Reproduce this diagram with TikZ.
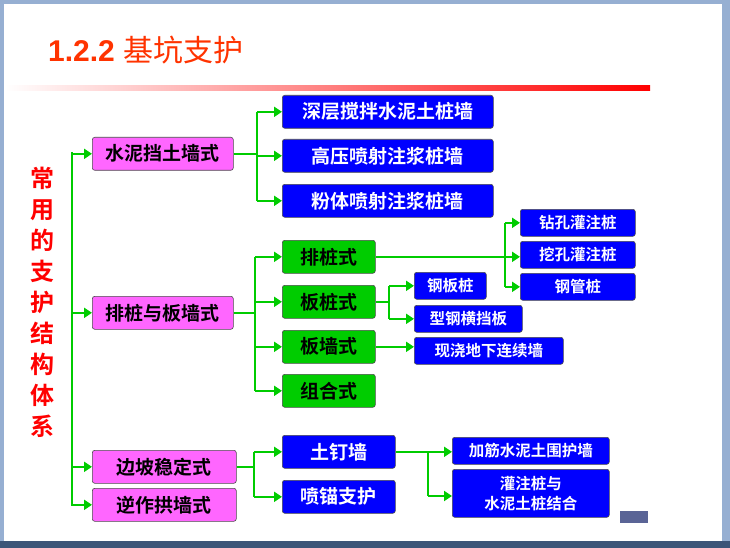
\documentclass[tikz,border=0pt]{standalone}
\usepackage{fontspec}
\setmainfont{Liberation Sans}
\newfontfamily\cjk{Noto Sans CJK SC}
\newfontfamily\cjkb{Noto Sans CJK SC Bold}
\usetikzlibrary{arrows.meta}
\definecolor{gr}{RGB}{0,204,0}
\definecolor{pk}{RGB}{255,102,255}
\definecolor{bl}{RGB}{0,0,255}
\definecolor{ttl}{RGB}{255,51,0}
\tikzset{
 box/.style={draw=black!70,line width=0.6pt,rounded corners=2.5pt,minimum height=33pt,inner sep=0pt,anchor=north west,font=\cjkb\fontsize{19}{21}\selectfont},
 pbox/.style={box,fill=pk,text=black},
 gbox/.style={box,fill=gr,text=black},
 bbox/.style={box,fill=bl,text=white},
 sbox/.style={bbox,minimum height=27pt,font=\cjkb\fontsize{15.5}{17}\selectfont},
 con/.style={draw=gr,line width=2.4pt},
 arr/.style={con,-{Triangle[length=8pt,width=10pt]}},
}
\begin{document}
\begin{tikzpicture}[x=1pt,y=-1pt]
\useasboundingbox (0,0) rectangle (730,548);
\fill[color={rgb,255:red,150;green,175;blue,210}] (0,0) rectangle (730,548);
\fill[white] (4,4) rectangle (722,541);
\fill[color={rgb,255:red,60;green,85;blue,120}] (0,541) rectangle (730,548);
\shade[left color=white,right color=red] (5,86) rectangle (650,91);
\node[anchor=west,text=ttl,inner sep=0] (title) at (48,50) {\fontsize{30}{32}\selectfont\bfseries 1.2.2 \cjk\mdseries 基坑支护};
\node[text=red,align=center,inner sep=0,font=\cjkb\fontsize{24}{31}\selectfont] (vt) at (42,302) {常\\用\\的\\支\\护\\结\\构\\体\\系};
% level 1
\node[pbox,minimum width=141pt] (a1) at (92,137) {水泥挡土墙式};
\node[pbox,minimum width=141pt] (a2) at (92,296) {排桩与板墙式};
\node[pbox,minimum width=144pt] (a3) at (92,450) {边坡稳定式};
\node[pbox,minimum width=144pt] (a4) at (92,488) {逆作拱墙式};
% level 2
\node[bbox,minimum width=211pt] (b1) at (282,95) {深层搅拌水泥土桩墙};
\node[bbox,minimum width=211pt] (b2) at (282,139) {高压喷射注浆桩墙};
\node[bbox,minimum width=211pt] (b3) at (282,184) {粉体喷射注浆桩墙};
\node[gbox,minimum width=93pt] (c1) at (282,240) {排桩式};
\node[gbox,minimum width=93pt] (c2) at (282,285) {板桩式};
\node[gbox,minimum width=93pt] (c3) at (282,330) {板墙式};
\node[gbox,minimum width=93pt] (c4) at (282,374) {组合式};
\node[bbox,minimum width=113pt] (d1) at (282,435) {土钉墙};
\node[bbox,minimum width=113pt] (d2) at (282,480) {喷锚支护};
% level 3
\node[sbox,minimum width=115pt] (e1) at (520,209) {钻孔灌注桩};
\node[sbox,minimum width=115pt] (e2) at (520,241) {挖孔灌注桩};
\node[sbox,minimum width=115pt] (e3) at (520,273) {钢管桩};
\node[sbox,minimum width=72pt] (f1) at (414,272) {钢板桩};
\node[sbox,minimum width=108pt] (f2) at (414,305) {型钢横挡板};
\node[sbox,minimum width=149pt] (g1) at (414,337) {现浇地下连续墙};
\node[sbox,minimum width=157pt] (h1) at (452,437) {加筋水泥土围护墙};
\node[sbox,minimum width=157pt,minimum height=48pt,align=center,font=\cjkb\fontsize{15.5}{20}\selectfont] (h2) at (452,469) {灌注桩与\\水泥土桩结合};
\node[fill={rgb,255:red,90;green,100;blue,150},minimum width=28pt,minimum height=12pt,inner sep=0] (mk) at (634,517) {};
% trunk
\draw[con] (72,152) -- (72,506);
\foreach \n in {a1,a2,a3,a4} \draw[arr] (72,0 |- \n.west) -- (\n.west);
% a1 branches
\draw[con] (a1.east) -- (257,0 |- a1.east);
\draw[con] (257,0 |- b1.west) -- (257,0 |- b3.west);
\foreach \n in {b1,b2,b3} \draw[arr] (257,0 |- \n.west) -- (\n.west);
% a2 branches
\draw[con] (a2.east) -- (255,0 |- a2.east);
\draw[con] (255,0 |- c1.west) -- (255,0 |- c4.west);
\foreach \n in {c1,c2,c3,c4} \draw[arr] (255,0 |- \n.west) -- (\n.west);
% c1
\draw[arr] (c1.east) -- (e2.west |- c1.east);
\draw[con] (505,0 |- e1.west) -- (505,0 |- e3.west);
\draw[arr] (505,0 |- e1.west) -- (e1.west);
\draw[arr] (505,0 |- e3.west) -- (e3.west);
% c2
\draw[con] (c2.east) -- (389,0 |- c2.east);
\draw[con] (389,0 |- f1.west) -- (389,0 |- f2.west);
\draw[arr] (389,0 |- f1.west) -- (f1.west);
\draw[arr] (389,0 |- f2.west) -- (f2.west);
% c3
\draw[arr] (c3.east) -- (g1.west |- c3.east);
% a3
\draw[con] (a3.east) -- (254,0 |- a3.east);
\draw[con] (254,0 |- d1.west) -- (254,0 |- d2.west);
\draw[arr] (254,0 |- d1.west) -- (d1.west);
\draw[arr] (254,0 |- d2.west) -- (d2.west);
% d1
\draw[arr] (d1.east) -- (h1.west |- d1.east);
\draw[con] (428,0 |- d1.east) -- (428,496);
\draw[arr] (428,496) -- (h2.west |- 0,496);
\end{tikzpicture}
\end{document}
